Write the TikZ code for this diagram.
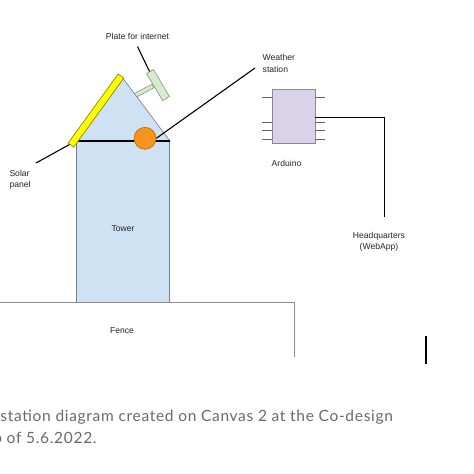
\documentclass[tikz,border=0pt]{standalone}
\usepackage{fontspec}
\setmainfont{Liberation Sans}
\newfontfamily\capfont[LetterSpace=4.5]{Lato}
\definecolor{towerfill}{HTML}{CFE2F3}
\definecolor{towerline}{HTML}{6F8090}
\definecolor{panelfill}{HTML}{FFFF00}
\definecolor{panelline}{HTML}{8A8A00}
\definecolor{platefill}{HTML}{D9EAD3}
\definecolor{plateline}{HTML}{7E9A72}
\definecolor{ardfill}{HTML}{D9D2E9}
\definecolor{ardline}{HTML}{8A8896}
\definecolor{wsfill}{HTML}{F7931E}
\definecolor{wsline}{HTML}{C06A00}
\definecolor{fenceline}{HTML}{8C8C8C}
\definecolor{capgray}{HTML}{6A6A6A}
\tikzset{
  lbl/.style={font=\fontsize{8.6}{10.5}\selectfont, text=black!85, inner sep=0pt, align=center},
  lbll/.style={font=\fontsize{8.6}{11.5}\selectfont, text=black!85, inner sep=0pt, align=left},
  pointer/.style={draw=black, line width=1.1pt},
  pin/.style={draw=black!60, line width=0.8pt},
  captext/.style={font=\capfont\fontsize{15.5}{22}\selectfont, text=capgray, inner sep=0pt}
}
\begin{document}
\begin{tikzpicture}[x=1pt,y=-1pt]
\useasboundingbox (0,0) rectangle (474,474);
\clip (0,0) rectangle (474,474);
\fill[white] (0,0) rectangle (474,474);
% plate connector (behind roof)
\filldraw[fill=platefill, draw=plateline, line width=0.6pt]
  (135.1,97.7) -- (132.9,94.3) -- (151.9,84.3) -- (154.1,87.7) -- cycle;
% tower
\filldraw[fill=towerfill, draw=towerline, line width=0.6pt] (76,141) rectangle (169,302);
% roof
\filldraw[fill=towerfill, draw=towerline, line width=0.6pt] (76,141) -- (122,77) -- (170,141) -- cycle;
\coordinate (rl) at (76,141);
\coordinate (rr) at (170,141);
\draw[black, line width=1.2pt] (rl) -- (rr);
% plate
\filldraw[fill=platefill, draw=plateline, line width=0.6pt]
  (153.4,69.4) -- (146.6,73.6) -- (162.6,100.6) -- (169.4,96.4) -- cycle;
\coordinate (platetop) at (149.5,71.5);
% solar panel
\filldraw[fill=panelfill, draw=panelline, line width=0.7pt]
  (73.8,147.1) -- (68.2,143.0) -- (118.2,74.0) -- (123.8,78.1) -- cycle;
\coordinate (panelend) at (69.5,144.5);
% weather station
\node[circle, fill=wsfill, draw=wsline, line width=0.6pt, minimum size=22pt, inner sep=0pt] (ws) at (145,138.3) {};
% fence
\coordinate (f0) at (0,302.7);
\coordinate (f1) at (294,302.7);
\coordinate (f2) at (294,357);
\draw[fenceline, line width=0.9pt] (f0) -- (f1) -- (f2);
% small mark
\coordinate (m0) at (426,336);
\coordinate (m1) at (426,364);
\draw[black, line width=1.2pt] (m0) -- (m1);
% arduino
\node[draw=ardline, fill=ardfill, line width=0.6pt, minimum width=43pt, minimum height=54pt, inner sep=0pt, anchor=north west] (ard) at (272,89) {};
\foreach \yy in {97.7,122.3,130.7,139} {
  \draw[pin] (262,\yy) -- (272,\yy);
  \draw[pin] (315,\yy) -- (325,\yy);
}
\coordinate (hqtop) at (384.5,117.3);
\coordinate (hqend) at (384.5,217);
\draw[black, line width=1.1pt] (315,117.3) -- (hqtop) -- (hqend);
% labels
\node[lbl] (platelbl) at (137.5,36.5) {Plate for internet};
\node[lbll, anchor=north west] (wslbl) at (262.5,54.5) {Weather\\station};
\node[lbll, anchor=north west] (solarlbl) at (9.3,170) {Solar\\panel};
\node[lbl] (towerlbl) at (123,229) {Tower};
\node[lbl] (ardlbl) at (286.5,163) {Arduino};
\node[lbl, anchor=north] (hqlbl) at (379,232.5) {Headquarters\\(WebApp)};
\node[lbl] (fencelbl) at (122,330.5) {Fence};
% pointers
\coordinate (platelblb) at (137.5,46.5);
\draw[pointer] (platelblb) -- (platetop);
\coordinate (wsend) at (255,68);
\draw[pointer] (ws.east) -- (wsend);
\coordinate (solarstart) at (36,163);
\draw[pointer] (solarstart) -- (panelend);
% caption
\node[captext, anchor=base west] (cap1) at (0.3,421.5) {station diagram created on Canvas 2 at the Co-design};
\node[captext, anchor=base east] (cap2) at (96.8,443.5) {p of 5.6.2022.};
\end{tikzpicture}
\end{document}
